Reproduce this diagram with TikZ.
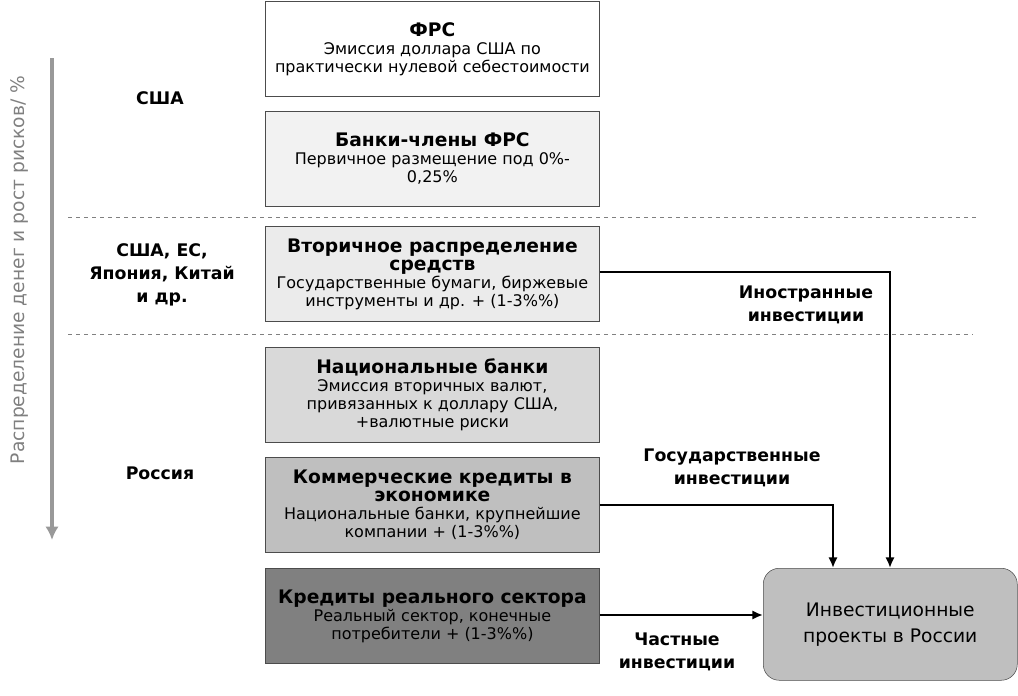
\documentclass[tikz,border=0pt]{standalone}
\usepackage{fontspec}
\setmainfont{DejaVu Sans}
\begin{document}
\begin{tikzpicture}[x=0.75pt,y=-0.75pt,
 box/.style={draw=black!70,line width=0.6pt,minimum width=334*0.75pt,minimum height=95*0.75pt,anchor=north west,align=center,inner sep=2pt,font=\fontsize{12}{13.5}\selectfont},
 ttl/.style={},
 lbl/.style={align=center,font=\bfseries\fontsize{13}{17}\selectfont},
 arr/.style={line width=1.9pt,-{Latex[length=8pt,width=7pt]}}]
\useasboundingbox (0,0) rectangle (1018,696);
\usetikzlibrary{arrows.meta}
\newcommand{\bt}[1]{{\bfseries\fontsize{14}{16}\selectfont #1}}
\definecolor{c2}{HTML}{F2F2F2}\definecolor{c3}{HTML}{EBEBEB}\definecolor{c4}{HTML}{D9D9D9}
\definecolor{c5}{HTML}{BFBFBF}\definecolor{c6}{HTML}{808080}\definecolor{ci}{HTML}{BFBFBF}
\node[box,fill=white] (b1) at (265,1) {\bt{ФРС}\\Эмиссия доллара США по\\практически нулевой себестоимости};
\node[box,fill=c2] (b2) at (265,111) {\bt{Банки-члены ФРС}\\Первичное размещение под 0\%-\\0,25\%};
\node[box,fill=c3] (b3) at (265,226) {\bt{Вторичное распределение}\\\bt{средств}\\Государственные бумаги, биржевые\\инструменты и др. + (1-3\%\%)};
\node[box,fill=c4] (b4) at (265,347) {\bt{Национальные банки}\\Эмиссия вторичных валют,\\привязанных к доллару США,\\+валютные риски};
\node[box,fill=c5] (b5) at (265,457) {\bt{Коммерческие кредиты в}\\\bt{экономике}\\Национальные банки, крупнейшие\\компании + (1-3\%\%)};
\node[box,fill=c6] (b6) at (265,568) {\bt{Кредиты реального сектора}\\Реальный сектор, конечные\\потребители + (1-3\%\%)};
\node[draw=black!70,fill=ci,rounded corners=12pt,minimum width=254*0.75pt,minimum height=112*0.75pt,anchor=north west,align=center,font=\fontsize{14}{19.5}\selectfont] (inv) at (763,568) {Инвестиционные\\проекты в России};
\draw[gray,dashed] (68,217) -- (977,217);
\draw[gray,dashed] (68,334) -- (973,334);
\draw[gray!80,line width=2.5pt,-{Latex[length=10pt,width=10pt]}] (52,58) -- (52,540);
\node[rotate=90,text=gray,font=\fontsize{14}{16}\selectfont] (axis) at (20,270) {Распределение денег и рост рисков/ \%};
\node[lbl] (l1) at (160,98) {США};
\node[lbl] (l2) at (162,275) {США, ЕС,\\Япония, Китай\\и др.};
\node[lbl] (l3) at (160,473) {Россия};
\coordinate (p1) at (890,272);
\coordinate (p2) at (833,505);
\draw[arr] (b3.east|-p1) -- (p1) -- (p1|-inv.north);
\draw[arr] (b5.east|-p2) -- (p2) -- (p2|-inv.north);
\draw[arr] (b6.east|-0,615) -- (inv.west|-0,615);
\node[lbl] (t1) at (806,305) {Иностранные\\инвестиции};
\node[lbl] (t2) at (732,468) {Государственные\\инвестиции};
\node[lbl] (t3) at (677,652) {Частные\\инвестиции};
\end{tikzpicture}
\end{document}
